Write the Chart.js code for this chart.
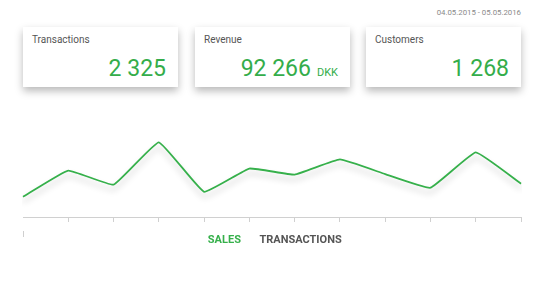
<!DOCTYPE html>
<html>
<head>
<meta charset="utf-8">
<script src="https://cdn.jsdelivr.net/npm/chart.js@4"></script>
<style>
  html, body { margin: 0; padding: 0; background: #fff; }
  body { width: 545px; height: 300px; position: relative; overflow: hidden; font-family: Roboto, "Noto Sans", sans-serif; }
  #periodo { position: absolute; right: 24px; top: 8px; font-size: 7.8px; color: #8a8a8a; }
  .tarjeta { position: absolute; top: 27px; width: 155px; height: 60px; background: #fff;
             box-shadow: 0 4px 8px rgba(0,0,0,0.28); }
  .tarjeta .titulo { position: absolute; left: 9px; top: 7px; font-size: 10px; color: #555; }
  .tarjeta .valor { position: absolute; right: 12px; top: 28px; font-size: 23px; color: #34ad4a; white-space: nowrap; }
  .tarjeta .unidad { font-size: 11px; margin-left: 6px; }
  #contenedor { position: absolute; left: 0; top: 96px; width: 545px; height: 160px; }
</style>
</head>
<body>
<div id="periodo"></div>
<div id="tarjetas"></div>
<div id="contenedor"><canvas id="grafico"></canvas></div>
<script>
const periodo = '04.05.2015 - 05.05.2016';

const titulosTarjetas = ['Transactions', 'Revenue', 'Customers'];
const valoresTarjetas = ['2 325', '92 266', '1 268'];
const unidadesTarjetas = ['', 'DKK', ''];

const meses = ['May', 'Jun', 'Jul', 'Aug', 'Sep', 'Oct', 'Nov', 'Dec', 'Jan', 'Feb', 'Mar', 'Apr'];
const ventas = [20, 46, 32, 74, 25, 48, 42, 57, 42.5, 29, 64, 33];

const leyenda = ['SALES', 'TRANSACTIONS'];

const verde = '#36b04b';

document.getElementById('periodo').textContent = periodo;

const tarjetas = document.getElementById('tarjetas');
const posiciones = [23, 195, 366];
titulosTarjetas.forEach((titulo, i) => {
  const t = document.createElement('div');
  t.className = 'tarjeta';
  t.style.left = posiciones[i] + 'px';
  let html = '<div class="titulo">' + titulo + '</div><div class="valor">' + valoresTarjetas[i];
  if (unidadesTarjetas[i]) html += '<span class="unidad">' + unidadesTarjetas[i] + '</span>';
  html += '</div>';
  t.innerHTML = html;
  tarjetas.appendChild(t);
});

// sombra bajo la linea
const sombraLinea = {
  id: 'sombraLinea',
  beforeDatasetDraw(chart) {
    const ctx = chart.ctx;
    ctx.save();
    ctx.shadowColor = 'rgba(0,0,0,0.22)';
    ctx.shadowBlur = 6;
    ctx.shadowOffsetY = 5;
  },
  afterDatasetDraw(chart) {
    chart.ctx.restore();
  }
};

// pequeña marca bajo el primer punto
const marcaInicio = {
  id: 'marcaInicio',
  afterDraw(chart) {
    const x = Math.round(chart.scales.x.getPixelForValue(0)) + 0.5;
    const y = chart.scales.x.top;
    const ctx = chart.ctx;
    ctx.save();
    ctx.strokeStyle = '#cfcfcf';
    ctx.lineWidth = 1;
    ctx.beginPath();
    ctx.moveTo(x, y + 14);
    ctx.lineTo(x, y + 20);
    ctx.stroke();
    ctx.restore();
  }
};

const coloresLeyenda = [verde, '#555555'];

new Chart(document.getElementById('grafico'), {
  type: 'line',
  data: {
    labels: meses,
    datasets: [{
      label: 'Sales',
      data: ventas,
      borderColor: verde,
      borderWidth: 1.8,
      pointRadius: 0,
      tension: 0.1,
      fill: false
    }]
  },
  options: {
    responsive: true,
    maintainAspectRatio: false,
    animation: false,
    layout: { padding: { left: 23, right: 24, top: 15, bottom: 0 } },
    scales: {
      x: {
        offset: false,
        grid: {
          drawOnChartArea: false,
          tickLength: 5,
          color: c => c.index === 0 ? 'rgba(0,0,0,0)' : '#d0d0d0'
        },
        border: { color: '#d0d0d0' },
        ticks: { display: false }
      },
      y: { display: false, min: 0, max: 105 }
    },
    plugins: {
      tooltip: { enabled: false },
      legend: {
        position: 'bottom',
        onClick: null,
        labels: {
          boxWidth: 0,
          boxHeight: 0,
          padding: 13,
          font: { family: 'Roboto', size: 11, weight: 'bold' },
          generateLabels: () => leyenda.map((texto, i) => ({
            text: texto,
            fontColor: coloresLeyenda[i],
            fillStyle: 'rgba(0,0,0,0)',
            strokeStyle: 'rgba(0,0,0,0)',
            lineWidth: 0,
            hidden: false,
            datasetIndex: 0
          }))
        }
      }
    }
  },
  plugins: [sombraLinea, marcaInicio]
});
</script>
</body>
</html>
